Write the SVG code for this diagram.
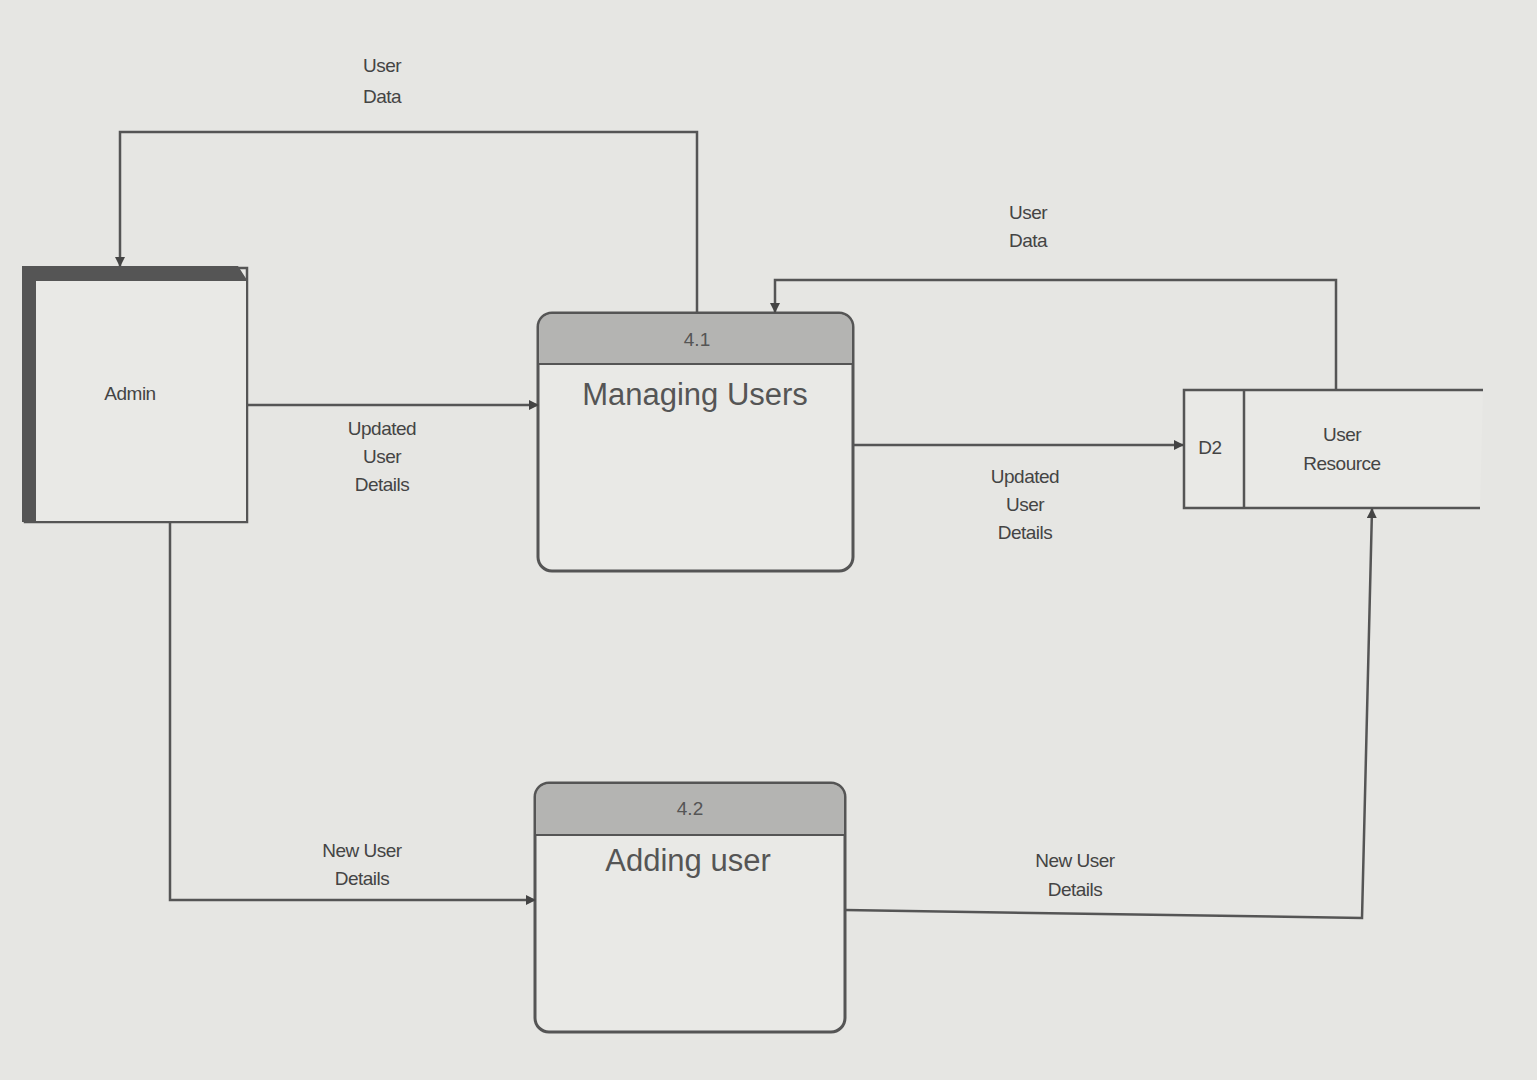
<svg xmlns="http://www.w3.org/2000/svg" width="1537" height="1080" viewBox="0 0 1537 1080">
<style>
.lbl{font-family:"Liberation Sans",Arial,sans-serif;font-size:19px;fill:#444;text-anchor:middle;letter-spacing:-0.5px}
.ttl{font-family:"Liberation Sans",Arial,sans-serif;font-size:31px;fill:#555;text-anchor:middle}
.num{font-family:"Liberation Sans",Arial,sans-serif;font-size:19px;fill:#555;text-anchor:middle}
.ln{fill:none;stroke:#555;stroke-width:2.5}
</style>
<defs><marker id="a" markerWidth="10" markerHeight="10" refX="9" refY="5" orient="auto" markerUnits="userSpaceOnUse"><path d="M0,0L10,5L0,10z" fill="#444"/></marker></defs>
<rect width="1537" height="1080" fill="#e6e6e3"/>
<g id="admin">
<rect x="25" y="268" width="222" height="254" fill="#e9e9e6" stroke="#555" stroke-width="2.5"/>
<path d="M22,266H238L247,280H35V522H22Z" fill="#555"/>
<rect x="35" y="280" width="212" height="242" fill="#e9e9e6" stroke="#555" stroke-width="2"/>
<text class="lbl" x="130" y="400" font-size="17">Admin</text>
</g>
<g id="p41">
<rect x="538" y="313" width="315" height="258" rx="14" fill="#e9e9e6" stroke="#555" stroke-width="3"/>
<path d="M552,314H839A13,13 0 0 1 852,327V364H539V327A13,13 0 0 1 552,314Z" fill="#b4b4b2"/>
<line x1="539" y1="364" x2="852" y2="364" stroke="#555" stroke-width="2"/>
<text class="num" x="697" y="346">4.1</text>
<text class="ttl" x="695" y="405">Managing Users</text>
</g>
<g id="p42">
<rect x="535" y="783" width="310" height="249" rx="14" fill="#e9e9e6" stroke="#555" stroke-width="3"/>
<path d="M549,784H831A13,13 0 0 1 844,797V835H536V797A13,13 0 0 1 549,784Z" fill="#b4b4b2"/>
<line x1="536" y1="835" x2="844" y2="835" stroke="#555" stroke-width="2"/>
<text class="num" x="690" y="815">4.2</text>
<text class="ttl" x="688" y="871">Adding user</text>
</g>
<g id="d2">
<path d="M1483,390H1184V508H1480" fill="#e9e9e6" stroke="#555" stroke-width="2.5"/>
<line x1="1244" y1="390" x2="1244" y2="508" stroke="#555" stroke-width="2.5"/>
<text class="lbl" x="1210" y="454">D2</text>
<text class="lbl" x="1342" y="441">User</text>
<text class="lbl" x="1342" y="470">Resource</text>
</g>
<g id="connectors">
<path class="ln" d="M697,313V132H120V266" marker-end="url(#a)"/>
<path class="ln" d="M247,405H538" marker-end="url(#a)"/>
<path class="ln" d="M853,445H1183" marker-end="url(#a)"/>
<path class="ln" d="M1336,390V280H775V312" marker-end="url(#a)"/>
<path class="ln" d="M170,522V900H535" marker-end="url(#a)"/>
<path class="ln" d="M845,910L1362,918L1372,509" marker-end="url(#a)"/>
</g>
<g id="labels">
<text class="lbl" x="382" y="72">User</text><text class="lbl" x="382" y="103">Data</text>
<text class="lbl" x="382" y="435">Updated</text><text class="lbl" x="382" y="463">User</text><text class="lbl" x="382" y="491">Details</text>
<text class="lbl" x="1025" y="483">Updated</text><text class="lbl" x="1025" y="511">User</text><text class="lbl" x="1025" y="539">Details</text>
<text class="lbl" x="1028" y="219">User</text><text class="lbl" x="1028" y="247">Data</text>
<text class="lbl" x="362" y="857">New User</text><text class="lbl" x="362" y="885">Details</text>
<text class="lbl" x="1075" y="867">New User</text><text class="lbl" x="1075" y="896">Details</text>
</g>
</svg>
